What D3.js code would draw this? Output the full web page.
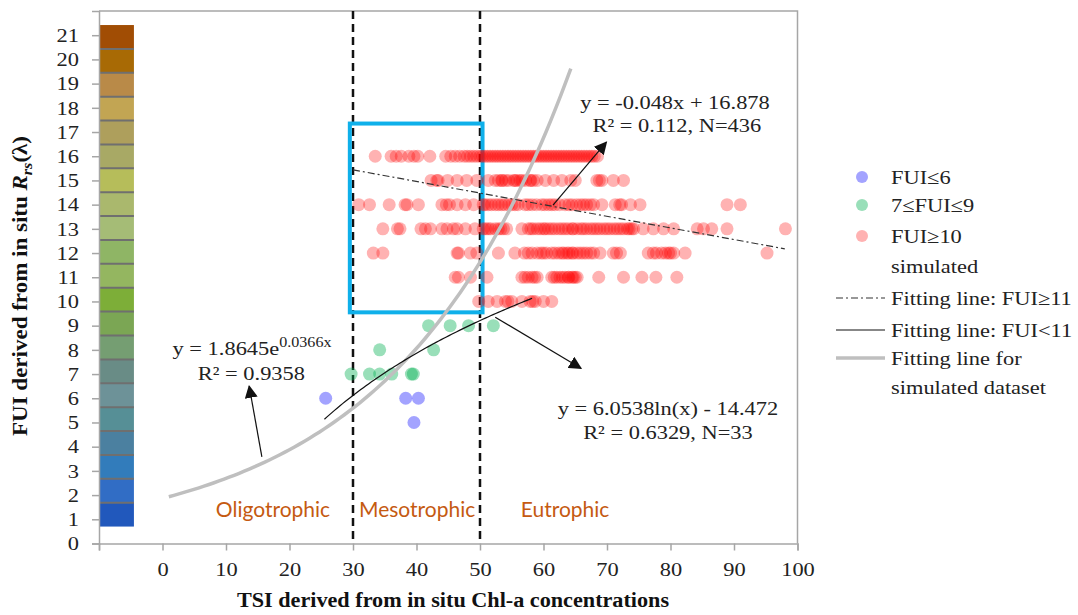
<!DOCTYPE html>
<html lang="en">
<head>
<meta charset="UTF-8">
<title>FUI vs TSI</title>
<script src="https://d3js.org/d3.v7.min.js"></script>
<style>
  body { margin: 0; background: #fff; }
  svg { display: block; }
  .axis path, .axis line { stroke: #a6a6a6; stroke-width: 1.5; }
  .axis text { font-family: "Liberation Serif", serif; font-size: 19.5px; fill: #222; }
  .serif { font-family: "Liberation Serif", serif; fill: #222; }
  .axis-title { font-family: "Liberation Serif", serif; font-weight: bold; font-size: 20px; fill: #111; }
  .trophic { font-family: Lato, sans-serif; font-size: 21px; fill: #c55a11; }
</style>
</head>
<body>
<svg id="chart" width="1078" height="615"></svg>
<script>
// ---- data ----
const fuiLevels = [1,2,3,4,5,6,7,8,9,10,11,12,13,14,15,16,17,18,19,20,21];
const fuiColors = ["#2158bc","#316dc5","#327cbb","#4b80a0","#568f96","#6d9298","#698c86",
                   "#759e72","#7ba654","#7dae38","#94b660","#8fb565","#a5bc76","#aab86d",
                   "#b6bd5a","#a8a965","#ae9f5c","#c2a553","#b98a48","#a86a05","#a14d04"];
const yTicks = [0,1,2,3,4,5,6,7,8,9,10,11,12,13,14,15,16,17,18,19,20,21];
const xTicks = [-10,0,10,20,30,40,50,60,70,80,90,100];

// FUI <= 6 points (TSI, FUI)
const lowTsi = [25.7, 38.3, 40.3, 39.6];
const lowFui = [6, 6, 6, 5];
// 7 <= FUI <= 9 points
const midTsi = [41.9, 45.3, 48.2, 52.1, 34.2, 42.7, 29.7, 32.6, 34.2, 36.1, 39.2, 39.5];
const midFui = [9, 9, 9, 9, 8, 8, 7, 7, 7, 7, 7, 7];

// FUI >= 10 simulated points, one TSI list per FUI row
const tsiFui16 = [33.5,36.0,36.8,37.6,38.8,39.6,40.2,42.1,44.6,45.4,46.1,46.8,47.5,48.0,48.5,49.0,49.5,
  50.0,50.4,50.8,51.2,51.6,52.0,52.4,52.8,53.2,53.6,54.0,54.4,54.8,55.2,55.6,56.0,56.4,56.8,57.2,57.6,
  58.0,58.4,58.8,59.2,59.6,60.0,60.4,60.8,61.2,61.6,62.0,62.4,62.8,63.2,63.6,64.0,64.4,64.8,65.2,65.6,
  66.0,66.4,66.8,67.2,67.6,68.0,68.5];
const tsiFui15 = [42.3,43.2,43.4,44.9,46.4,47.9,49.5,51.3,52.4,52.9,53.4,53.5,54.0,54.5,55.3,55.5,55.8,
  56.3,56.6,57.2,57.9,58.0,58.4,59.0,60.3,61.6,62.9,64.3,65.0,68.4,68.8,69.2,71.0,72.6];
const tsiFui14 = [30.9,32.6,35.7,38.2,38.5,40.3,44.0,44.7,45.2,46.4,47.7,49.0,50.5,50.8,51.3,51.8,52.4,
  52.9,53.4,53.9,54.5,55.0,55.5,56.0,57.1,57.6,58.2,58.9,59.7,60.2,60.8,61.3,61.8,62.5,63.4,64.0,64.5,
  65.2,65.8,66.3,66.8,67.4,67.9,69.2,71.3,72.0,72.3,73.7,75.2,88.9,91.0];
const tsiFui13 = [34.7,37.0,37.4,40.7,41.4,42.2,44.0,44.8,45.8,46.4,47.7,49.2,50.5,50.9,51.3,51.7,52.4,
  52.9,53.3,53.7,54.2,56.6,57.6,58.0,58.4,59.0,59.5,60.0,60.3,60.8,61.3,61.8,62.4,62.9,63.4,63.9,64.5,
  64.7,65.3,65.9,66.3,66.8,67.4,67.9,68.4,68.9,69.5,70.0,70.5,71.1,71.6,72.1,72.6,73.2,73.5,73.9,74.2,
  75.7,77.3,78.9,80.5,84.2,85.2,86.5,88.9,98.1];
const tsiFui12 = [33.2,34.7,46.4,46.6,48.5,49.5,52.9,55.5,57.0,57.6,58.2,59.0,59.6,60.0,60.5,61.3,61.8,
  62.4,62.9,63.2,63.7,64.0,64.5,64.7,65.3,65.8,66.3,66.8,67.4,67.9,68.9,71.0,71.5,72.1,76.5,77.3,77.8,
  78.6,79.2,79.7,80.0,80.5,82.3,95.2];
const tsiFui11 = [46.1,46.6,48.5,51.1,56.6,57.1,57.6,58.2,58.6,59.0,61.3,61.7,62.1,62.6,63.0,63.4,63.9,
  64.0,64.5,64.7,65.0,65.3,68.7,72.6,75.5,77.7,81.0];
const tsiFui10 = [49.8,51.3,52.7,54.0,54.4,55.0,56.6,57.9,58.3,58.7,60.0,61.3];

// fitted lines as shown in the chart labels
const expFit = { a: 1.8645, b: 0.0366, x0: 1, x1: 64.3 };      // simulated dataset
const logFit = { a: 6.0538, b: -14.472, x0: 25.5, x1: 58.2 };  // FUI < 11
const linFit = { a: -0.048, b: 16.878, x0: 30, x1: 98 };       // FUI >= 11

// ---- layout ----
const svg = d3.select("#chart");
const x = d3.scaleLinear().domain([-10, 100]).range([99, 797.5]);
const y = d3.scaleLinear().domain([0, 22]).range([543.5, 11]);

// the original text is a bit wider than Liberation Serif: stretch horizontally
function widen(sel, k) {
  sel.each(function () {
    const t = d3.select(this);
    const tx = +t.attr("x") || 0, ty = +t.attr("y") || 0;
    t.attr("x", 0).attr("y", 0).attr("transform", `translate(${tx},${ty}) scale(${k},1)`);
  });
}

// plot frame (top + right)
svg.append("path")
  .attr("d", `M${x(-10)},${y(22)}H${x(100)}V${y(0)}`)
  .attr("fill", "none").attr("stroke", "#a6a6a6").attr("stroke-width", 1.5);

// colour bar of Forel-Ule scale
const barBottom = 0.7, barTop = 21.42, cellH = (barTop - barBottom) / fuiLevels.length;
const bar = svg.append("g");
bar.selectAll("rect").data(fuiLevels).enter().append("rect")
  .attr("x", x(-10))
  .attr("width", x(-4.5) - x(-10))
  .attr("y", (d, i) => y(barBottom + (i + 1) * cellH))
  .attr("height", y(0) - y(cellH))
  .attr("fill", (d, i) => fuiColors[i]);
bar.selectAll("line").data(fuiLevels.slice(1)).enter().append("line")
  .attr("x1", x(-10)).attr("x2", x(-4.5))
  .attr("y1", (d, i) => y(barBottom + (i + 1) * cellH))
  .attr("y2", (d, i) => y(barBottom + (i + 1) * cellH))
  .attr("stroke", "#6f6f6f").attr("stroke-width", 2);

// axes
const xAx = svg.append("g").attr("class", "axis")
  .attr("transform", `translate(0,${y(0)})`)
  .call(d3.axisBottom(x).tickValues(xTicks).tickSize(7).tickPadding(12)
    .tickFormat(d => d < 0 ? "" : d));
const yAx = svg.append("g").attr("class", "axis")
  .attr("transform", `translate(${x(-10)},0)`)
  .call(d3.axisLeft(y).tickValues(yTicks).tickSize(7).tickPadding(13));
widen(xAx.selectAll("text"), 1.15);
widen(yAx.selectAll("text"), 1.15);

// axis titles
const xt = svg.append("text").attr("class", "axis-title")
  .attr("x", 453).attr("y", 607)
  .attr("text-anchor", "middle")
  .text("TSI derived from in situ Chl-a concentrations");
widen(xt, 1.11);
const yt = svg.append("text").attr("class", "axis-title")
  .attr("transform", "translate(27,286) rotate(-90) scale(1.15,1)")
  .attr("text-anchor", "middle");
yt.append("tspan").text("FUI derived from in situ ");
yt.append("tspan").attr("font-style", "italic").text("R");
yt.append("tspan").attr("font-style", "italic").attr("font-size", "14px").attr("dy", 5).text("rs");
yt.append("tspan").attr("dy", -5).text("(λ)");

// trophic state boundaries
svg.selectAll(".tsi-bound").data([30, 50]).enter().append("line")
  .attr("class", "tsi-bound")
  .attr("x1", d => x(d)).attr("x2", d => x(d))
  .attr("y1", y(22)).attr("y2", y(0))
  .attr("stroke", "#111").attr("stroke-width", 2.5).attr("stroke-dasharray", "8,5");

// highlighted box
svg.append("rect")
  .attr("x", x(29.5)).attr("y", y(17.35))
  .attr("width", x(50.4) - x(29.5)).attr("height", y(9.55) - y(17.35))
  .attr("fill", "none").attr("stroke", "#0fb0ea").attr("stroke-width", 4);

// simulated points
const simRows = [[16, tsiFui16], [15, tsiFui15], [14, tsiFui14], [13, tsiFui13],
                 [12, tsiFui12], [11, tsiFui11], [10, tsiFui10]];
const simPts = simRows.flatMap(([f, arr]) => arr.map(t => ({ t, f })));
svg.append("g").selectAll("circle").data(simPts).enter().append("circle")
  .attr("cx", d => x(d.t)).attr("cy", d => y(d.f)).attr("r", 6.5)
  .attr("fill", "#ff0000").attr("fill-opacity", 0.3);

// measured points
svg.append("g").selectAll("circle").data(midTsi).enter().append("circle")
  .attr("cx", d => x(d)).attr("cy", (d, i) => y(midFui[i])).attr("r", 6.5)
  .attr("fill", "#00b050").attr("fill-opacity", 0.4);
svg.append("g").selectAll("circle").data(lowTsi).enter().append("circle")
  .attr("cx", d => x(d)).attr("cy", (d, i) => y(lowFui[i])).attr("r", 6.5)
  .attr("fill", "#3333ff").attr("fill-opacity", 0.45);

// fitting lines
const line = d3.line().x(d => x(d[0])).y(d => y(d[1]));
const sampleX = (a, b) => d3.range(0, 81).map(i => a + (b - a) * i / 80);
svg.append("path")
  .attr("d", line(sampleX(expFit.x0, expFit.x1).map(t => [t, expFit.a * Math.exp(expFit.b * t)])))
  .attr("fill", "none").attr("stroke", "#bfbfbf").attr("stroke-width", 3.5);
svg.append("path")
  .attr("d", line(sampleX(logFit.x0, logFit.x1).map(t => [t, logFit.a * Math.log(t) + logFit.b])))
  .attr("fill", "none").attr("stroke", "#111").attr("stroke-width", 1.2);
svg.append("path")
  .attr("d", line([[linFit.x0, linFit.a * linFit.x0 + linFit.b], [linFit.x1, linFit.a * linFit.x1 + linFit.b]]))
  .attr("fill", "none").attr("stroke", "#333").attr("stroke-width", 1.2)
  .attr("stroke-dasharray", "7,3,2,3");

// arrows
svg.append("defs").append("marker")
  .attr("id", "head").attr("viewBox", "0 0 10 10").attr("refX", 9).attr("refY", 5)
  .attr("markerWidth", 13).attr("markerHeight", 13).attr("orient", "auto")
  .attr("markerUnits", "userSpaceOnUse")
  .append("path").attr("d", "M0,0L10,5L0,10z").attr("fill", "#111");
const arrows = [
  [[61.5, 13.98], [69.9, 16.58]],
  [[52.4, 9.35], [65.9, 7.24]],
  [[15.65, 3.58], [13.65, 6.5]]
];
svg.append("g").selectAll("line").data(arrows).enter().append("line")
  .attr("x1", d => x(d[0][0])).attr("y1", d => y(d[0][1]))
  .attr("x2", d => x(d[1][0])).attr("y2", d => y(d[1][1]))
  .attr("stroke", "#111").attr("stroke-width", 1.2)
  .attr("marker-end", "url(#head)");

// equation labels
function label(cx, cy, parts) {
  const t = svg.append("text").attr("class", "serif").attr("font-size", "19.5px")
    .attr("x", x(cx)).attr("y", y(cy)).attr("dy", "0.35em").attr("text-anchor", "middle");
  parts.forEach(p => {
    const s = t.append("tspan").text(p.s);
    if (p.sup) s.attr("font-size", "14px").attr("dy", -8);
  });
  widen(t, 1.15);
}
label(80.7, 18.25, [{ s: "y = -0.048x + 16.878" }]);
label(81.0, 17.29, [{ s: "R² = 0.112,  N=436" }]);
label(79.6, 5.59, [{ s: "y = 6.0538ln(x)  - 14.472" }]);
label(79.6, 4.61, [{ s: "R² = 0.6329,  N=33" }]);
label(14.1, 8.07, [{ s: "y = 1.8645e" }, { s: "0.0366x", sup: true }]);
label(14.0, 7.04, [{ s: "R² = 0.9358" }]);

// trophic state labels
const trophic = [["Oligotrophic", 17.4], ["Mesotrophic", 40.1], ["Eutrophic", 63.4]];
svg.selectAll(".trophic").data(trophic).enter().append("text")
  .attr("class", "trophic")
  .attr("x", d => x(d[1])).attr("y", y(1.38)).attr("dy", "0.35em")
  .attr("text-anchor", "middle").text(d => d[0]);

// legend
const lg = svg.append("g").attr("class", "serif").attr("font-size", "19.5px");
const markerItems = [["FUI≤6", "#3333ff", 0.45, 177], ["7≤FUI≤9", "#00b050", 0.4, 205], ["FUI≥10", "#ff0000", 0.3, 236]];
markerItems.forEach(([txt, col, op, yy]) => {
  lg.append("circle").attr("cx", 862).attr("cy", yy).attr("r", 6).attr("fill", col).attr("fill-opacity", op);
  lg.append("text").attr("x", 891).attr("y", yy).attr("dy", "0.35em").text(txt);
});
lg.append("text").attr("x", 891).attr("y", 266).attr("dy", "0.35em").text("simulated");
const lineItems = [["Fitting line: FUI≥11", 298, "#333", 1.2, "7,3,2,3"],
                   ["Fitting line: FUI<11", 330, "#111", 1.2, null],
                   ["Fitting line for", 358, "#bfbfbf", 3.5, null]];
lineItems.forEach(([txt, yy, col, w, dash]) => {
  lg.append("line").attr("x1", 836).attr("x2", 885).attr("y1", yy).attr("y2", yy)
    .attr("stroke", col).attr("stroke-width", w).attr("stroke-dasharray", dash);
  lg.append("text").attr("x", 891).attr("y", yy).attr("dy", "0.35em").text(txt);
});
lg.append("text").attr("x", 891).attr("y", 387).attr("dy", "0.35em").text("simulated dataset");
widen(lg.selectAll("text"), 1.15);
</script>
</body>
</html>
